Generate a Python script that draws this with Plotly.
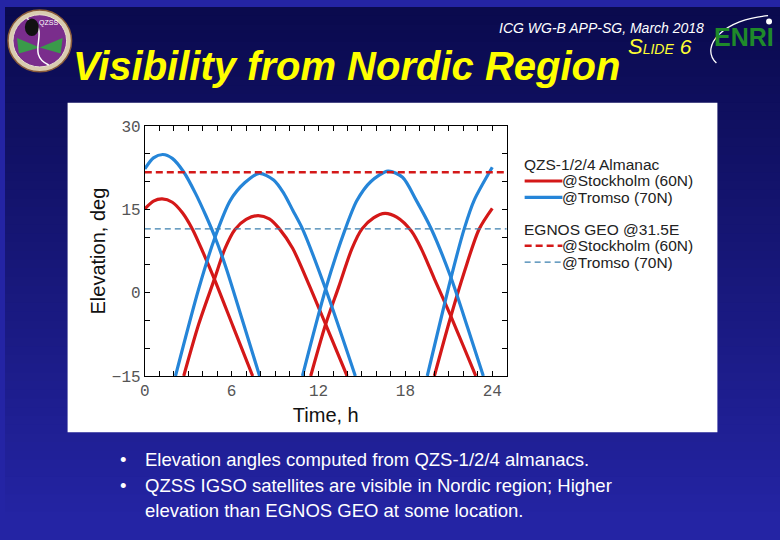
import plotly.graph_objects as go

# ---------------- DATA ----------------
# Stockholm (60N) elevation of QZS-1/2/4 (each list = one visible pass), hours / degrees
stk_pass1_t = [0, 0.6, 1.2, 1.9, 2.6, 3.3, 4.0, 4.8, 6.1, 7.45]
stk_pass1_e = [15.1, 16.5, 16.9, 16.3, 14.4, 11.4, 7.4, 2.5, -6.1, -15.0]
stk_pass2_t = [2.69, 3.72, 4.8, 5.53, 6.23, 7.0, 7.82, 8.6, 9.3, 10.21, 11.3, 12.49, 13.97]
stk_pass2_e = [-15.0, -5.7, 2.4, 7.9, 11.4, 13.2, 13.9, 13.3, 11.5, 8.0, 1.7, -5.7, -15.0]
stk_pass3_t = [11.46, 12.49, 13.4, 14.3, 15.0, 15.8, 16.59, 17.4, 18.41, 19.1, 20.0, 21.1, 22.0, 22.86]
stk_pass3_e = [-15.0, -5.7, 1.1, 7.9, 11.5, 13.5, 14.3, 13.6, 11.1, 7.9, 2.5, -4.0, -9.6, -15.0]
stk_pass4_t = [20.0, 21.1, 22.1, 23.08, 24.0]
stk_pass4_e = [-15.0, -4.6, 4.0, 11.4, 15.2]

# Tromso (70N)
tro_pass1_t = [0, 0.6, 1.25, 1.9, 2.7, 3.5, 4.2, 4.85, 5.6, 6.7, 7.93]
tro_pass1_e = [22.3, 24.3, 24.9, 24.2, 21.7, 17.9, 14.0, 10.0, 4.6, -4.6, -15.0]
tro_pass2_t = [2.12, 3.72, 4.85, 5.9, 6.9, 7.9, 8.9, 9.6, 10.21, 10.89, 12.49, 14.54]
tro_pass2_e = [-15.0, 0.67, 10.0, 16.6, 19.8, 21.5, 20.3, 17.9, 14.9, 11.5, 0.67, -15.0]
tro_pass3_t = [10.89, 12.49, 13.85, 14.65, 15.6, 16.8, 17.8, 18.75, 19.78, 21.15, 22.3, 23.38]
tro_pass3_e = [-15.0, 0.67, 11.5, 16.6, 20.0, 21.9, 20.8, 16.64, 11.53, 2.7, -6.3, -15.0]
tro_pass4_t = [19.51, 21.15, 22.06, 22.74, 24.0]
tro_pass4_e = [-15.0, 2.7, 11.5, 16.6, 22.6]

# EGNOS GEO @31.5E constant elevation
geo_t = [0, 25]
geo_stockholm = 21.7
geo_tromso = 11.5

x_ticks = [0, 6, 12, 18, 24]
y_ticks = [-15, 0, 15, 30]

legend_title_qzs = "QZS-1/2/4 Almanac"
legend_title_geo = "EGNOS GEO @31.5E"
loc_names = ["@Stockholm (60N)", "@Tromso (70N)"]

bullets = [
    "Elevation angles computed from QZS-1/2/4 almanacs.",
    "QZSS IGSO satellites are visible in Nordic region; Higher",
    "elevation than EGNOS GEO at some location.",
]

# ---------------- STYLES ----------------
RED = "#d41818"
BLUE = "#2585d8"
TEAL = "#3a7fae"
styles = {
    "qzs_stk": dict(color=RED, width=3.2),
    "qzs_tro": dict(color=BLUE, width=3.2),
    "geo_stk": dict(color=RED, width=2.4, dash="7px,4px"),
    "geo_tro": dict(color=TEAL, width=1.3, dash="6px,4px"),
}

W, H = 780, 540
def px(x):
    return x / W
def py(y):
    return 1 - y / H


def join(segs):
    xs, ys = [], []
    for t, e in segs:
        if xs:
            xs.append(None)
            ys.append(None)
        xs += t
        ys += e
    return xs, ys


fig = go.Figure()
sx, sy = join([(stk_pass1_t, stk_pass1_e), (stk_pass2_t, stk_pass2_e),
               (stk_pass3_t, stk_pass3_e), (stk_pass4_t, stk_pass4_e)])
tx, ty = join([(tro_pass1_t, tro_pass1_e), (tro_pass2_t, tro_pass2_e),
               (tro_pass3_t, tro_pass3_e), (tro_pass4_t, tro_pass4_e)])

fig.add_trace(go.Scatter(x=sx, y=sy, mode="lines", line=dict(**styles["qzs_stk"], shape="spline", smoothing=0.8),
                         name=loc_names[0], showlegend=False, connectgaps=False))
fig.add_trace(go.Scatter(x=tx, y=ty, mode="lines", line=dict(**styles["qzs_tro"], shape="spline", smoothing=0.8),
                         name=loc_names[1], showlegend=False, connectgaps=False))
fig.add_trace(go.Scatter(x=geo_t, y=[geo_stockholm] * len(geo_t), mode="lines", line=styles["geo_stk"],
                         name=loc_names[0], showlegend=False))
fig.add_trace(go.Scatter(x=geo_t, y=[geo_tromso] * len(geo_t), mode="lines", line=styles["geo_tro"],
                         name=loc_names[1], showlegend=False))

# ---------------- BACKGROUND ----------------
shapes = []
top = (10, 10, 78)
bot = (36, 36, 164)
nb = 60
for i in range(nb):
    f = i / (nb - 1)
    c = tuple(int(round(top[k] + (bot[k] - top[k]) * f)) for k in range(3))
    y0 = i * H / nb
    y1 = min(H, (i + 1) * H / nb + 1)
    shapes.append(dict(type="rect", xref="paper", yref="paper", x0=0, x1=1, y0=py(y1), y1=py(y0),
                       fillcolor="rgb(%d,%d,%d)" % c, line=dict(width=0), layer="below"))
# white chart panel
shapes.append(dict(type="rect", xref="paper", yref="paper", x0=px(63), x1=px(717), y0=py(440), y1=py(99),
                   fillcolor="white", line=dict(width=0), layer="below"))

# left logo
shapes.append(dict(type="circle", xref="paper", yref="paper", x0=px(3), x1=px(67), y0=py(67), y1=py(3),
                   fillcolor="#d9ccb0", line=dict(color="#8a5a3a", width=1.5), layer="above"))
shapes.append(dict(type="circle", xref="paper", yref="paper", x0=px(8), x1=px(62), y0=py(62), y1=py(8),
                   fillcolor="#7a2d8c", line=dict(color="#e8e0d0", width=1), layer="above"))
shapes.append(dict(type="path", xref="paper", yref="paper",
                   path="M %f,%f L %f,%f L %f,%f Z" % (px(12), py(32), px(35), py(42), px(14), py(48)),
                   fillcolor="#3a9a4a", line=dict(width=0), layer="above"))
shapes.append(dict(type="path", xref="paper", yref="paper",
                   path="M %f,%f L %f,%f L %f,%f Z" % (px(58), py(32), px(35), py(42), px(56), py(48)),
                   fillcolor="#3a9a4a", line=dict(width=0), layer="above"))
shapes.append(dict(type="path", xref="paper", yref="paper",
                   path="M %f,%f C %f,%f %f,%f %f,%f" % (px(22), py(12), px(50), py(22),
                                                          px(18), py(48), px(44), py(60)),
                   line=dict(color="white", width=1.5), layer="above"))
shapes.append(dict(type="circle", xref="paper", yref="paper", x0=px(20), x1=px(34), y0=py(30), y1=py(12),
                   fillcolor="#111111", line=dict(width=0), layer="above"))
# right logo arc
shapes.append(dict(type="path", xref="paper", yref="paper",
                   path="M %f,%f C %f,%f %f,%f %f,%f" % (px(716), py(58), px(698), py(40),
                                                          px(725), py(12), px(768), py(9)),
                   line=dict(color="white", width=1.3), layer="above"))
shapes.append(dict(type="circle", xref="paper", yref="paper", x0=px(766), x1=px(772), y0=py(18), y1=py(12),
                   fillcolor="white", line=dict(width=0), layer="above"))

# ---------------- MANUAL LEGEND ----------------
leg_x0, leg_x1, leg_tx = 523, 561, 559
leg_font = dict(family="Liberation Sans, Arial", size=15.5, color="#222222")
leg_rows = [
    ("title", legend_title_qzs, 163, None),
    ("item", loc_names[0], 180, styles["qzs_stk"]),
    ("item", loc_names[1], 197, styles["qzs_tro"]),
    ("title", legend_title_geo, 230, None),
    ("item", loc_names[0], 247, styles["geo_stk"]),
    ("item", loc_names[1], 264, styles["geo_tro"]),
]
annotations = []
for kind, txt, yy, st in leg_rows:
    if kind == "title":
        annotations.append(dict(x=px(leg_x0 - 3), y=py(yy), xref="paper", yref="paper", text=txt,
                                showarrow=False, xanchor="left", yanchor="middle", font=leg_font))
    else:
        shapes.append(dict(type="line", xref="paper", yref="paper", x0=px(leg_x0), x1=px(leg_x1),
                           y0=py(yy), y1=py(yy), line=dict(color=st["color"], width=st["width"],
                                                           dash=st.get("dash", "solid")), layer="above"))
        annotations.append(dict(x=px(leg_tx), y=py(yy), xref="paper", yref="paper", text=txt,
                                showarrow=False, xanchor="left", yanchor="middle", font=leg_font))

# ---------------- SLIDE TEXT ----------------
annotations.append(dict(x=px(344), y=py(61), xref="paper", yref="paper",
                        text="Visibility from Nordic Region", showarrow=False,
                        xanchor="center", yanchor="middle",
                        font=dict(family="Liberation Sans, Arial", size=40,
                                  color="#ffff00", weight="bold", style="italic")))
annotations.append(dict(x=px(706), y=py(22), xref="paper", yref="paper",
                        text="ICG WG-B APP-SG, March 2018", showarrow=False,
                        xanchor="right", yanchor="middle",
                        font=dict(family="Liberation Sans, Arial", size=14,
                                  color="white", style="italic")))
annotations.append(dict(x=px(625), y=py(41), xref="paper", yref="paper",
                        text="<span style='font-size:22px'>S</span><span style='font-size:14px'>LIDE</span>"
                             "<span style='font-size:21px'> 6</span>",
                        showarrow=False, xanchor="left", yanchor="middle",
                        font=dict(family="Liberation Sans, Arial", size=21,
                                  color="#ffff33", style="italic")))
annotations.append(dict(x=px(744), y=py(31), xref="paper", yref="paper", text="ENRI", showarrow=False,
                        xanchor="center", yanchor="middle",
                        font=dict(family="Liberation Sans, Arial", size=25,
                                  color="#1f8a2a", weight="bold")))
annotations.append(dict(x=px(44), y=py(17), xref="paper", yref="paper", text="QZSS", showarrow=False,
                        xanchor="center", yanchor="middle",
                        font=dict(family="Liberation Sans, Arial", size=7, color="white")))

bullet_rows = [(bullets[0], 468, True), (bullets[1], 495, True), (bullets[2], 521, False)]
for txt, yy, has_b in bullet_rows:
    if has_b:
        annotations.append(dict(x=px(114), y=py(yy), xref="paper", yref="paper", text="•", showarrow=False,
                                xanchor="left", yanchor="middle",
                                font=dict(family="Liberation Sans, Arial", size=18.5, color="white")))
    annotations.append(dict(x=px(139), y=py(yy), xref="paper", yref="paper", text=txt, showarrow=False,
                            xanchor="left", yanchor="middle",
                            font=dict(family="Liberation Sans, Arial", size=18.5, color="white")))

tick_font = dict(family="Liberation Mono, DejaVu Sans Mono", size=16, color="#555555")
axis_common = dict(showline=True, linecolor="black", linewidth=1, mirror="ticks", ticks="inside",
                   ticklen=5, tickcolor="black", showgrid=False, zeroline=False, tickfont=tick_font)

fig.update_layout(
    width=W, height=H, margin=dict(l=0, r=0, t=0, b=0),
    paper_bgcolor="rgb(36,36,164)", plot_bgcolor="white",
    shapes=shapes, annotations=annotations, showlegend=False,
    xaxis=dict(domain=[px(140.7), px(505)], range=[0, 25], tickvals=x_ticks,
               minor=dict(dtick=1, ticks="inside", ticklen=5, tickcolor="black"),
               title=dict(text="Time, h", standoff=7,
                          font=dict(family="Liberation Sans, Arial", size=20, color="#111111")),
               **axis_common),
    yaxis=dict(domain=[py(381.7), py(123.3)], range=[-15, 30], tickvals=y_ticks,
               minor=dict(dtick=5, ticks="inside", ticklen=5, tickcolor="black"),
               title=dict(text="Elevation, deg", standoff=0,
                          font=dict(family="Liberation Sans, Arial", size=20, color="#111111")),
               **axis_common),
)

fig.write_html("out.html")
